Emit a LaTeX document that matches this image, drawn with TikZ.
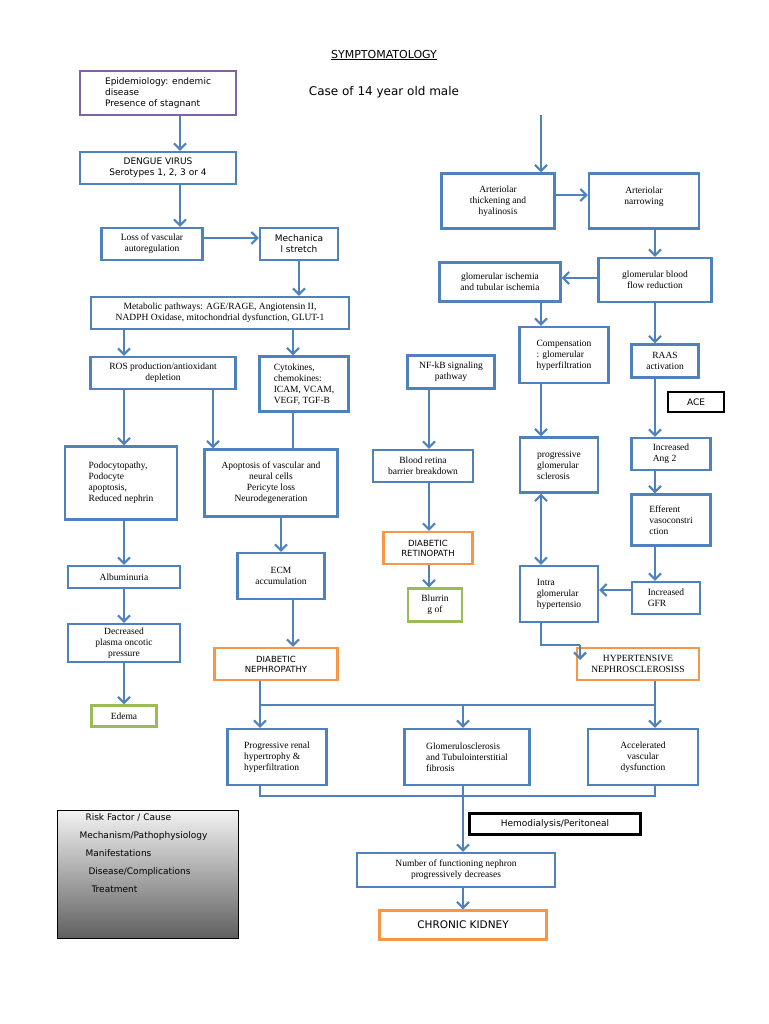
\documentclass[tikz,border=0pt]{standalone}
\usepackage{fontspec}
\setmainfont{Liberation Serif}
\newfontfamily\sansf{DejaVu Sans}
\usepackage{tikz}
\usetikzlibrary{arrows.meta}
\definecolor{boxblue}{RGB}{79,129,189}
\definecolor{boxorange}{RGB}{247,150,70}
\definecolor{boxgreen}{RGB}{155,187,89}
\definecolor{boxpurple}{RGB}{128,100,162}
\tikzset{
  box/.style={draw=boxblue,line width=2.2pt,inner sep=2pt,align=center,font=\fontsize{9.5}{11}\selectfont},
  sbox/.style={box,font=\sansf\fontsize{9}{11}\selectfont},
  obox/.style={box,draw=boxorange},
  gbox/.style={box,draw=boxgreen},
  arr/.style={draw=boxblue,line width=2.2pt,-{Straight Barb[length=6pt,width=12pt]}},
  ln/.style={draw=boxblue,line width=2.2pt}
}
\newcommand{\bx}[6]{\node[#1,minimum width=#4pt,minimum height=#5pt] (#2) at (#3) {#6};}
\begin{document}
\begin{tikzpicture}[x=1pt,y=-1pt]
\useasboundingbox (0,0) rectangle (768,1024);
\node[font=\sansf\fontsize{11}{13}\selectfont] (ttl) at (384,55) {\underline{SYMPTOMATOLOGY}};
\node[font=\sansf\fontsize{12}{14}\selectfont] (case) at (384,92) {Case of 14 year old male};

% left column
\bx{sbox,draw=boxpurple,align=left}{epi}{158,93}{156}{44}{Epidemiology: endemic\\disease\\Presence of stagnant}
\bx{sbox}{dengue}{158,168}{156}{32}{DENGUE VIRUS\\Serotypes 1, 2, 3 or 4}
\bx{box}{loss}{152,244}{101}{32}{Loss of vascular\\autoregulation}
\bx{sbox}{mech}{299,244}{78}{32}{Mechanica\\l stretch}
\bx{box}{metab}{220,313}{258}{32}{Metabolic pathways: AGE/RAGE, Angiotensin II,\\NADPH Oxidase, mitochondrial dysfunction, GLUT-1}
\bx{box}{ros}{163,373}{145}{32}{ROS production/antioxidant\\depletion}
\bx{box,align=left}{cyto}{304,384}{89}{55}{Cytokines,\\chemokines:\\ICAM, VCAM,\\VEGF, TGF-B}
\bx{box,align=left}{podo}{121,483}{112}{73}{Podocytopathy,\\Podocyte\\apoptosis,\\Reduced nephrin}
\bx{box}{apop}{271,483}{133}{67}{Apoptosis of vascular and\\neural cells\\Pericyte loss\\Neurodegeneration}
\bx{box}{ecm}{281,576}{87}{46}{ECM\\accumulation}
\bx{box}{albu}{124,577}{112}{22}{Albuminuria}
\bx{box}{decr}{124,643}{112}{38}{Decreased\\plasma oncotic\\pressure}
\bx{gbox}{edema}{124,716}{65}{21}{Edema}
\bx{obox,font=\sansf\fontsize{8.5}{10}\selectfont}{dnep}{276,664}{123}{32}{DIABETIC\\NEPHROPATHY}

% retina column
\bx{box}{nfkb}{451,372}{87}{33}{NF-kB signaling\\pathway}
\bx{box}{blood}{423,466}{100}{32}{Blood retina\\barrier breakdown}
\bx{obox,font=\sansf\fontsize{8.5}{10}\selectfont}{dret}{428,548}{89}{32}{DIABETIC\\RETINOPATH}
\bx{gbox}{blur}{435,605}{54}{33}{Blurrin\\g of}

% right columns
\coordinate (top) at (541,115);
\bx{box}{arth}{498,201}{113}{55}{Arteriolar\\thickening and\\hyalinosis}
\bx{box}{arnar}{644,201}{110}{55}{Arteriolar\\narrowing\\ }
\bx{box}{glisch}{500,282}{121}{39}{glomerular ischemia\\and tubular ischemia}
\bx{box}{gbfr}{655,280}{113}{44}{glomerular blood\\flow reduction}
\bx{box,align=left}{comp}{564,355}{89}{56}{Compensation\\: glomerular\\hyperfiltration}
\bx{box}{raas}{665,361}{67}{33}{RAAS\\activation}
\node[draw,line width=2.2pt,minimum width=56pt,minimum height=20pt,inner sep=1pt,font=\sansf\fontsize{9}{10}\selectfont] (ace) at (696,402) {ACE};
\bx{box,align=left}{prog}{559,465}{78}{55}{progressive\\glomerular\\sclerosis}
\bx{box,align=left}{ang}{671,454}{79}{32}{Increased\\Ang 2}
\bx{box,align=left}{eff}{671,520}{79}{51}{Efferent\\vasoconstri\\ction}
\bx{box,align=left}{intra}{559,594}{78}{56}{Intra\\glomerular\\hypertensio}
\bx{box,align=left}{gfr}{666,598}{68}{32}{Increased\\GFR}
\bx{obox}{hyp}{638,664}{122}{32}{HYPERTENSIVE\\NEPHROSCLEROSISS}

% bottom
\bx{box,align=left}{prr}{277,757}{99}{56}{Progressive renal\\hypertrophy \&\\hyperfiltration}
\bx{box,align=left}{glo}{467,757}{125}{56}{Glomerulosclerosis\\and Tubulointerstitial\\fibrosis}
\bx{box}{acc}{643,757}{110}{56}{Accelerated\\vascular\\dysfunction}
\node[draw,line width=2.2pt,minimum width=171pt,minimum height=21pt,inner sep=1pt,font=\sansf\fontsize{9}{10}\selectfont] (hemo) at (555,824) {Hemodialysis/Peritoneal};
\bx{box}{num}{456,870}{198}{34}{Number of functioning nephron\\progressively decreases}
\bx{obox,font=\sansf\fontsize{10.5}{12}\selectfont}{ckd}{463,925}{167}{29}{CHRONIC KIDNEY}

% legend
\shade[top color=gray!10,bottom color=gray!75!black] (57,810) rectangle (238,938);
\draw[line width=1pt] (57,810) rectangle (238,938);
\node[anchor=north west,align=left,font=\sansf\fontsize{9}{18}\selectfont] (leg) at (76,810) {\hspace{6pt}Risk Factor / Cause\\Mechanism/Pathophysiology\\\hspace{6pt}Manifestations\\\hspace{9pt}Disease/Complications\\\hspace{12pt}Treatment};

% connectors
\draw[arr] (epi.south -| 180,0) -- (dengue.north -| 180,0);
\draw[arr] (dengue.south -| 180,0) -- (loss.north -| 180,0);
\draw[arr] (loss.east |- 0,238) -- (mech.west |- 0,238);
\draw[arr] (mech) ++(0,16) -- (metab.north -| mech);
\draw[arr] (metab.south -| 124,0) -- (ros.north -| 124,0);
\draw[arr] (metab.south -| 293,0) -- (cyto.north -| 293,0);
\draw[arr] (ros.south -| 124,0) -- (podo.north -| 124,0);
\draw[arr] (ros.south -| 213,0) -- (apop.north -| 213,0);
\draw[ln] (cyto.south -| 293,0) -- (apop.north -| 293,0);
\draw[arr] (podo) ++(3,36.5) -- (albu.north);
\draw[arr] (albu) -- (decr);
\draw[arr] (decr) -- (edema);
\draw[arr] (apop.south -| ecm) -- (ecm);
\draw[arr] (ecm.south -| 293,0) -- (dnep.north -| 293,0);
\draw[arr] (nfkb.south -| 429,0) -- (blood.north -| 429,0);
\draw[arr] (blood.south -| 429,0) -- (dret.north -| 429,0);
\draw[arr] (dret.south -| 429,0) -- (blur.north -| 429,0);
\draw[arr] (top) -- (arth.north -| top);
\draw[arr] (arth.east |- 0,195) -- (arnar.west |- 0,195);
\draw[arr] (arnar.south -| gbfr) -- (gbfr);
\draw[arr] (gbfr.west |- 0,278) -- (glisch.east |- 0,278);
\draw[arr] (glisch.south -| top) -- (comp.north -| top);
\draw[arr] (gbfr.south -| 655,0) -- (raas.north -| 655,0);
\draw[arr] (comp.south -| top) -- (prog.north -| top);
\draw[arr] (raas.south -| 655,0) -- (ang.north -| 655,0);
\draw[arr] (ang.south -| 655,0) -- (eff.north -| 655,0);
\draw[arr] (eff.south -| 655,0) -- (gfr.north -| 655,0);
\draw[arr] (gfr.west |- 0,590) -- (intra.east |- 0,590);
\draw[draw=boxblue,line width=2.2pt,{Straight Barb[length=6pt,width=12pt]}-{Straight Barb[length=6pt,width=12pt]}] (prog.south -| top) -- (intra.north -| top);
\coordinate (hk) at (580,645);
\draw[ln] (intra.south -| top) |- (hk);
\draw[arr] (hk) -- ++(0,15);
% bus to the three bottom boxes
\coordinate (busl) at (260,705);
\coordinate (busr) at (655,705);
\draw[ln] (dnep.south -| busl) -- (busl) -- (busr) -- (hyp.south -| busr);
\draw[arr] (busl) -- (prr.north -| busl);
\draw[arr] (busl -| 463,0) -- (glo.north -| 463,0);
\draw[arr] (busr) -- (acc.north -| busr);
\coordinate (lowl) at (260,796);
\coordinate (lowr) at (655,796);
\draw[ln] (prr.south -| lowl) -- (lowl) -- (lowr) -- (acc.south -| lowr);
\draw[arr] (glo.south -| 463,0) -- (num.north -| 463,0);
\draw[arr] (num.south -| 463,0) -- (ckd.north -| 463,0);
\end{tikzpicture}
\end{document}
